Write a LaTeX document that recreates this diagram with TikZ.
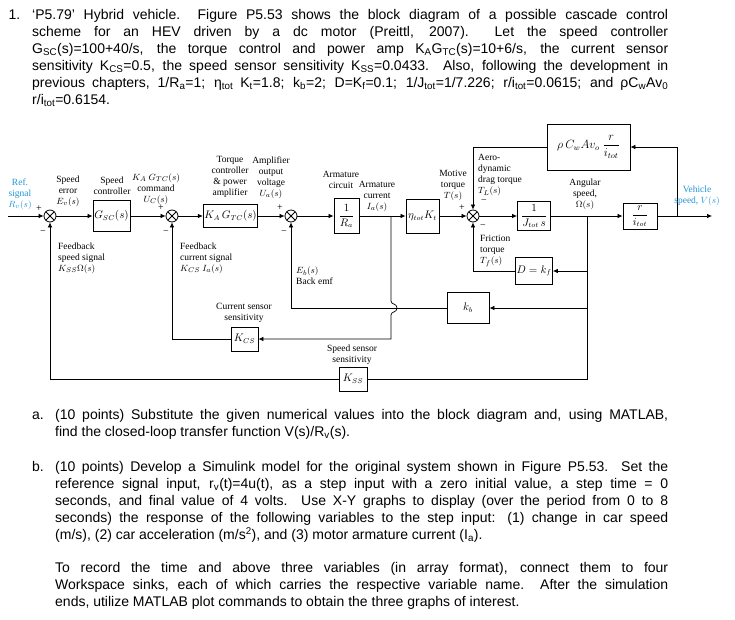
\documentclass[tikz,border=0pt]{standalone}
\usepackage{amsmath}
\usepackage{fontspec}
\setmainfont{Liberation Sans}
\newfontfamily\dfont{Liberation Serif}
\usetikzlibrary{arrows.meta}
\definecolor{refblue}{RGB}{35,150,215}
\begin{document}
\begin{tikzpicture}[x=1pt,y=-1pt,
  ln/.style={line width=0.7pt},
  ar/.style={ln,-{Latex[length=5pt,width=4.5pt]}},
  blk/.style={draw,line width=0.9pt,inner sep=1pt,font=\dfont\fontsize{10.5}{12}\selectfont},
  sumc/.style={draw,circle,line width=0.8pt,minimum size=12pt,inner sep=0pt,
    path picture={\draw[line width=0.8pt] (path picture bounding box.north west)--(path picture bounding box.south east)
      (path picture bounding box.north east)--(path picture bounding box.south west);}},
  lbl/.style={font=\dfont\fontsize{9.5}{11}\selectfont,align=center,inner sep=0pt},
  lbll/.style={lbl,align=left,anchor=west},
  sgn/.style={font=\dfont\fontsize{10}{10}\selectfont,inner sep=0pt},
  ptext/.style={anchor=base west,inner sep=0pt,font=\fontsize{14}{17}\selectfont},
]
\useasboundingbox[fill=white] (0,0) rectangle (735,619);

% ---------- paragraph ----------
\node[ptext] (n1) at (8.5,19.5) {1.};
\node[ptext] (l1) at (32,19.5) {\makebox[636pt][s]{‘P5.79’ Hybrid vehicle.\ \ Figure P5.53 shows the block diagram of a possible cascade control}};
\node[ptext] (l2) at (32,36.5) {\makebox[636pt][s]{scheme for an HEV driven by a dc motor (Preittl, 2007).\ \ Let the speed controller}};
\node[ptext] (l3) at (32,53.5) {\makebox[636pt][s]{G\textsubscript{SC}(s)=100+40/s, the torque control and power amp K\textsubscript{A}G\textsubscript{TC}(s)=10+6/s, the current sensor}};
\node[ptext] (l4) at (32,70.5) {\makebox[636pt][s]{sensitivity K\textsubscript{CS}=0.5, the speed sensor sensitivity K\textsubscript{SS}=0.0433.\ \ Also, following the development in}};
\node[ptext] (l5) at (32,87.5) {\makebox[636pt][s]{previous chapters, 1/R\textsubscript{a}=1; η\textsubscript{tot} K\textsubscript{t}=1.8; k\textsubscript{b}=2; D=K\textsubscript{f}=0.1; 1/J\textsubscript{tot}=1/7.226; r/i\textsubscript{tot}=0.0615; and ρC\textsubscript{w}Av\textsubscript{0}}};
\node[ptext] (l6) at (32,104.5) {r/i\textsubscript{tot}=0.6154.};

% ---------- diagram ----------
\coordinate (in) at (8,216);
\node[sumc] (s1) at (50,216) {};
\node[blk,minimum width=37pt,minimum height=31pt] (gsc) at (111.5,216) {$G_{SC}(s)$};
\node[sumc] (s2) at (172,216) {};
\node[blk,minimum width=45pt,minimum height=23pt] (kag) at (230.5,216) {$K_A\,G_{TC}(s)$};
\node[sumc] (s3) at (291,216) {};
\node[blk,minimum width=25pt,minimum height=35pt] (ra) at (346.5,216) {$\dfrac{1}{R_a}$};
\coordinate (ia) at (391,216);
\node[blk,minimum width=33pt,minimum height=34pt] (eta) at (422.5,216) {$\eta_{tot}K_t$};
\node[sumc] (s4) at (473,216) {};
\node[blk,minimum width=33pt,minimum height=29pt] (js) at (534,216) {$\dfrac{1}{J_{tot}\,s}$};
\coordinate (om) at (587,216);
\node[blk,minimum width=34pt,minimum height=26pt] (ri) at (640,216) {$\dfrac{r}{i_{tot}}$};
\coordinate (vo) at (677,216);
\coordinate (out) at (712,216);
\node[blk,minimum width=83pt,minimum height=46pt,font=\dfont\fontsize{12}{14}\selectfont] (rho) at (588.5,147) {$\rho\, C_w A v_o\ \dfrac{r}{i_{tot}}$};
\node[blk,minimum width=30pt,minimum height=27pt] (dk) at (534,271) {$D=k_f$};
\node[blk,minimum width=42pt,minimum height=31pt] (kb) at (468,308) {$k_b$};
\node[blk,minimum width=27pt,minimum height=24pt] (kcs) at (244.5,339) {$K_{CS}$};
\node[blk,minimum width=28pt,minimum height=24pt] (kss) at (353,379) {$K_{SS}$};
\coordinate (bA) at (391,301);
\coordinate (bB) at (391,315);

\draw[ar] (in) -- (s1);
\draw[ar] (s1) -- (gsc);
\draw[ar] (gsc) -- (s2);
\draw[ar] (s2) -- (kag);
\draw[ar] (kag) -- (s3);
\draw[ar] (s3) -- (ra);
\draw[ar] (ra) -- (eta);
\draw[ar] (eta) -- (s4);
\draw[ar] (s4) -- (js);
\draw[ar] (js) -- (ri);
\draw[ar] (ri) -- (out);

\draw[ar] (vo) |- (rho.east);
\draw[ar] (rho.west) -| (s4.north);
\draw[ln] (om) |- (kss.east);
\draw[ar] (kss.west) -| (s1.south);
\draw[ar] (om |- dk) -- (dk.east);
\draw[ar] (dk.west) -| (s4.south);
\draw[ar] (om |- kb) -- (kb.east);
\draw[ar] (kb.west) -| (s3.south);
\draw[ar] (ia) -- (bA) .. controls (391,305) and (397,303) .. (397,308) .. controls (397,313) and (391,311) .. (bB) |- (kcs.east);
\draw[ar] (kcs.west) -| (s2.south);

% signs
\node[sgn] at (39,209) {+};
\node[sgn] at (43,233) {−};
\node[sgn] at (161,208) {+};
\node[sgn] at (166,233) {−};
\node[sgn] at (280,208) {+};
\node[sgn] at (284,233) {−};
\node[sgn] at (462,208) {+};
\node[sgn] at (484,202) {−};
\node[sgn] at (483,227) {−};

% labels
\node[lbl,text=refblue] (lref) at (20,194) {Ref.\\signal\\$R_v(s)$};
\node[lbl] (lerr) at (68,191) {Speed\\error\\$E_v(s)$};
\node[lbl] (lsc) at (112,186) {Speed\\controller};
\node[lbl] (lcmd) at (156,189) {$K_A\ G_{TC}(s)$\\command\\$U_C(s)$};
\node[lbl] (ltc) at (230,176.5) {Torque\\controller\\\& power\\amplifier};
\node[lbl] (lamp) at (271,177.5) {Amplifier\\output\\voltage\\$U_a(s)$};
\node[lbl] (larm) at (341,180) {Armature\\circuit};
\node[lbl] (lcur) at (377,196) {Armature\\current\\$I_a(s)$};
\node[lbl] (lmot) at (453,185) {Motive\\torque\\$T(s)$};
\node[lbll] (laero) at (478,175) {Aero-\\dynamic\\drag torque\\$T_L(s)$};
\node[lbl] (lang) at (585,194) {Angular\\speed,\\$\Omega(s)$};
\node[lbl,text=refblue] (lveh) at (697,196) {Vehicle\\speed, $V(s)$};
\node[lbll] (lfbs) at (58,258) {Feedback\\speed signal\\$K_{SS}\Omega(s)$};
\node[lbll] (lfbc) at (180,258) {Feedback\\current signal\\$K_{CS}\ I_a(s)$};
\node[lbll] (lemf) at (296,276) {$E_b(s)$\\Back emf};
\node[lbll] (lfric) at (480,251) {Friction\\torque\\$T_f(s)$};
\node[lbl] (lcss) at (244,313) {Current sensor\\sensitivity};
\node[lbl] (lsss) at (352,355) {Speed sensor\\sensitivity};

% ---------- questions ----------
\node[ptext] (na) at (32,419.5) {a.};
\node[ptext] (a1) at (55,419.5) {\makebox[613pt][s]{(10 points) Substitute the given numerical values into the block diagram and, using MATLAB,}};
\node[ptext] (a2) at (55,436.5) {find the closed-loop transfer function V(s)/R\textsubscript{v}(s).};
\node[ptext] (nb) at (32,471.5) {b.};
\node[ptext] (b1) at (55,471.5) {\makebox[613pt][s]{(10 points) Develop a Simulink model for the original system shown in Figure P5.53.\ \ Set the}};
\node[ptext] (b2) at (55,488.5) {\makebox[613pt][s]{reference signal input, r\textsubscript{v}(t)=4u(t), as a step input with a zero initial value, a step time = 0}};
\node[ptext] (b3) at (55,505.5) {\makebox[613pt][s]{seconds, and final value of 4 volts.\ \ Use X-Y graphs to display (over the period from 0 to 8}};
\node[ptext] (b4) at (55,522.5) {\makebox[613pt][s]{seconds) the response of the following variables to the step input: (1) change in car speed}};
\node[ptext] (b5) at (55,539.5) {(m/s), (2) car acceleration (m/s\textsuperscript{2}), and (3) motor armature current (I\textsubscript{a}).};
\node[ptext] (c1) at (55,572.5) {\makebox[613pt][s]{To record the time and above three variables (in array format), connect them to four}};
\node[ptext] (c2) at (55,589.5) {\makebox[613pt][s]{Workspace sinks, each of which carries the respective variable name.\ \ After the simulation}};
\node[ptext] (c3) at (55,606.5) {ends, utilize MATLAB plot commands to obtain the three graphs of interest.};
\end{tikzpicture}
\end{document}
